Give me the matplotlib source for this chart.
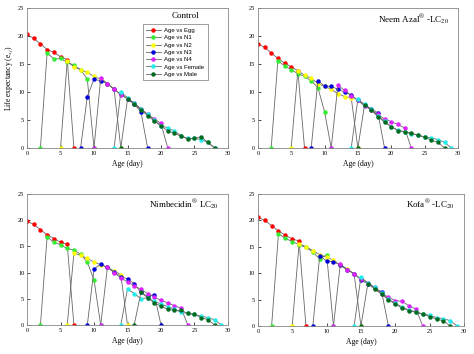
import numpy as np
import matplotlib
matplotlib.use('Agg')
import matplotlib.pyplot as plt

plt.rcParams['font.family'] = ['Liberation Serif', 'DejaVu Serif']
plt.rcParams['mathtext.fontset'] = 'stix'

stages = ['Egg', 'N1', 'N2', 'N3', 'N4', 'Female', 'Male']
colors = ['#ff0000', '#33ee33', '#ffff00', '#0000dd', '#dd22ff', '#22eeee', '#006b1f']

# each series: first x, y values (0 = stage not yet / no longer present)
control = {
    'Egg': (0, [20.3, 19.6, 18.6, 17.6, 17.1, 16.3, 15.8, 0]),
    'N1': (2, [0, 17.0, 15.9, 16.0, 15.3, 14.8, 14.0, 12.3, 0]),
    'N2': (5, [0, 15.5, 14.5, 14.0, 13.5, 12.8, 12.3, 11.5, 10.5, 0]),
    'N3': (8, [0, 9.2, 12.3, 12.0, 11.5, 10.5, 9.6, 8.8, 7.8, 6.5, 0]),
    'N4': (10, [0, 12.5, 11.5, 10.5, 9.5, 8.8, 8.0, 7.0, 6.0, 5.2, 4.4, 0]),
    'Female': (13, [0, 10.0, 9.0, 8.0, 7.0, 6.0, 5.0, 4.0, 3.6, 3.0, 2.2, 1.7, 1.7, 1.5, 1.0, 0]),
    'Male': (14, [0, 8.7, 7.8, 6.8, 5.8, 4.8, 3.9, 3.1, 2.6, 2.1, 1.6, 1.7, 2.0, 1.0, 0]),
}
neem = {
    'Egg': (0, [18.6, 18.0, 17.0, 16.0, 15.2, 14.5, 13.8, 0]),
    'N1': (2, [0, 15.6, 14.7, 14.0, 13.3, 12.8, 12.0, 10.8, 6.5, 0]),
    'N2': (5, [0, 13.8, 13.0, 12.5, 11.5, 11.0, 10.5, 9.7, 9.2, 9.0, 0]),
    'N3': (8, [0, 12.0, 11.1, 11.0, 10.5, 10.0, 9.5, 8.5, 7.7, 7.0, 6.3, 0]),
    'N4': (11, [0, 11.2, 10.3, 9.3, 8.5, 7.5, 6.8, 6.0, 5.2, 4.7, 4.2, 3.6, 0]),
    'Female': (14, [0, 8.7, 7.8, 6.9, 5.8, 4.8, 3.8, 3.2, 2.9, 2.5, 2.3, 2.0, 1.8, 1.5, 1.0, 0]),
    'Male': (15, [0, 7.7, 6.8, 5.6, 4.6, 3.8, 3.1, 2.9, 2.7, 2.3, 1.9, 1.4, 1.0, 0]),
}
nimbecidin = {
    'Egg': (0, [19.8, 19.2, 18.2, 17.2, 16.5, 15.8, 15.4, 0]),
    'N1': (2, [0, 16.8, 15.8, 15.3, 14.6, 14.3, 13.5, 12.0, 8.6, 0]),
    'N2': (6, [0, 13.7, 13.3, 12.7, 12.0, 11.5, 11.0, 10.3, 9.6, 0]),
    'N3': (9, [0, 10.7, 11.6, 11.0, 10.1, 9.2, 8.8, 7.9, 6.2, 5.5, 5.8, 0]),
    'N4': (11, [0, 11.0, 10.0, 9.0, 8.2, 7.5, 6.8, 6.0, 5.3, 4.7, 4.2, 3.7, 3.2, 0]),
    'Female': (14, [0, 6.9, 6.0, 5.0, 5.2, 4.5, 4.0, 3.5, 3.0, 2.4, 2.2, 2.0, 1.7, 1.4, 1.0, 0]),
    'Male': (16, [0, 6.2, 5.2, 4.2, 3.6, 3.0, 2.8, 2.8, 2.2, 2.0, 1.4, 1.0, 0]),
}
kofa = {
    'Egg': (0, [20.6, 20.0, 19.0, 18.0, 17.2, 16.5, 16.1, 0]),
    'N1': (2, [0, 17.5, 16.6, 16.0, 15.4, 14.9, 14.0, 12.7, 13.5, 0]),
    'N2': (5, [0, 15.6, 15.0, 14.3, 13.5, 13.0, 12.5, 11.5, 10.8, 9.9, 0]),
    'N3': (8, [0, 13.3, 12.3, 12.2, 11.5, 10.6, 9.9, 8.7, 8.0, 7.2, 6.5, 0]),
    'N4': (11, [0, 11.8, 10.7, 9.9, 8.9, 8.2, 7.3, 6.1, 5.5, 4.8, 4.7, 3.8, 3.2, 0]),
    'Female': (14, [0, 9.3, 8.1, 7.3, 6.2, 5.1, 4.3, 3.6, 3.0, 2.7, 2.3, 2.0, 1.6, 1.4, 1.0, 0]),
    'Male': (15, [0, 8.0, 7.0, 6.0, 5.0, 4.1, 3.4, 2.9, 2.6, 2.2, 1.8, 1.3, 1.0, 0]),
}

panels = [control, neem, nimbecidin, kofa]
titles = ['Control', r'Neem Azal$^{\circledR}$ -LC$_{20}$',
          r'Nimbecidin$^{\circledR}$ LC$_{20}$', r'Kofa$^{\circledR}$ -LC$_{20}$']
rects = [[0.057, 0.582, 0.424, 0.395], [0.544, 0.582, 0.422, 0.395],
         [0.057, 0.082, 0.424, 0.370], [0.544, 0.079, 0.435, 0.373]]

fig = plt.figure(figsize=(4.74, 3.54), dpi=100)
for i, data in enumerate(panels):
    ax = fig.add_axes(rects[i])
    for s, c in zip(stages, colors):
        x0, y = data[s]
        x = np.arange(x0, x0 + len(y))
        ax.plot(x, y, color='#666666', lw=0.6, marker='o', ms=2.2,
                mfc=c, mec=c, label='Age vs ' + s)
    ax.set_xlim(0, 30)
    ax.set_ylim(0, 25)
    ax.set_xticks(range(0, 31, 5))
    ax.set_yticks(range(0, 26, 5))
    ax.tick_params(direction='in', length=2, width=0.5, labelsize=4.5, pad=2)
    for sp in ax.spines.values():
        sp.set_color('#888888')
        sp.set_linewidth(0.6)
    ax.set_xlabel('Age (day)', fontsize=5.5, labelpad=3)
    if i == 0:
        ax.text(0.786, 0.945, titles[i], transform=ax.transAxes, ha='center',
                va='center', fontsize=6.5)
        ax.set_ylabel(r'Life expectancy (e$_{xj}$)', fontsize=5.5, labelpad=2)
        leg = ax.legend(loc='upper right', bbox_to_anchor=(0.915, 0.905),
                        frameon=True, fancybox=False,
                        edgecolor='#555555', handlelength=2.4,
                        labelspacing=0.35, borderpad=0.6, handletextpad=0.6,
                        prop={'family': 'Liberation Sans', 'size': 4.3})
        leg.get_frame().set_linewidth(0.5)
    else:
        ax.text(0.955, 0.92, titles[i], transform=ax.transAxes, ha='right',
                va='center', fontsize=6.5)

fig.savefig('out.png', dpi=100)
